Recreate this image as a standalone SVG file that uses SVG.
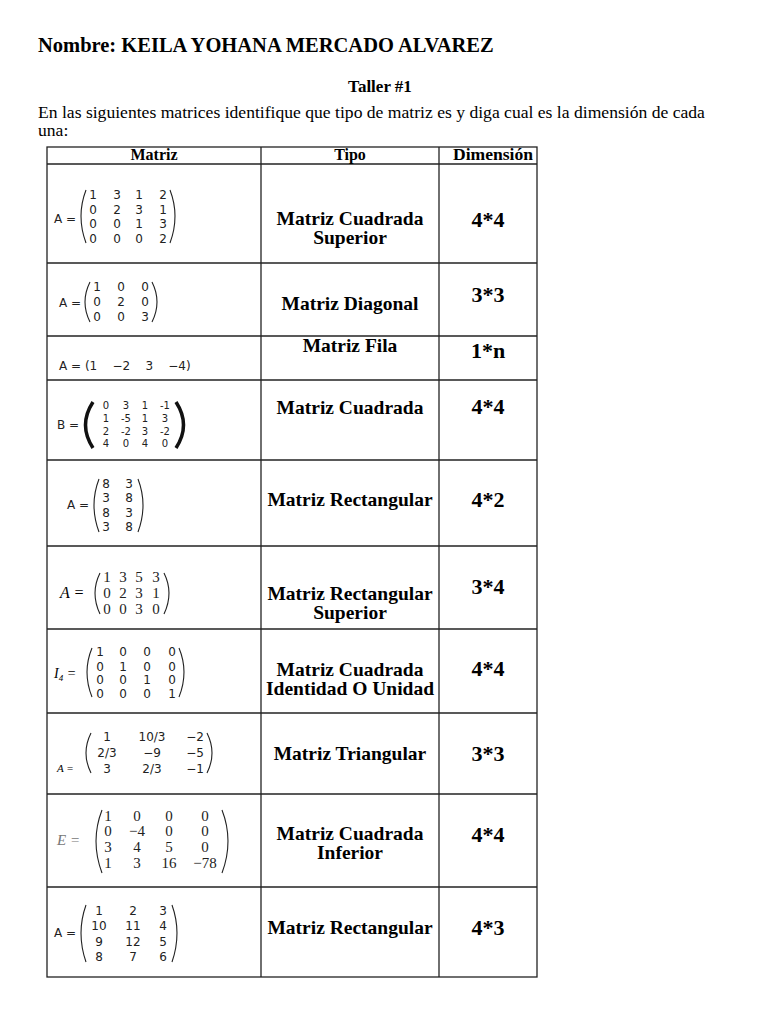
<svg xmlns="http://www.w3.org/2000/svg" width="768" height="1024" viewBox="0 0 768 1024">
<style>
.h{font-family:"Liberation Serif",serif;font-weight:bold;fill:#000}
.t{font-family:"Liberation Serif",serif;font-weight:bold;font-size:19.5px;text-anchor:middle}
.d{font-family:"Liberation Serif",serif;font-weight:bold;font-size:22px;text-anchor:middle}
.m{font-family:"DejaVu Sans","Liberation Sans",sans-serif;font-size:12px;fill:#222;text-anchor:middle}
.ms{font-family:"DejaVu Sans","Liberation Sans",sans-serif;font-size:10px;fill:#222;text-anchor:middle}
.mi{font-family:"Liberation Serif",serif;font-size:15px;fill:#222;text-anchor:middle}
.lab{font-family:"DejaVu Sans","Liberation Sans",sans-serif;font-size:12px;fill:#222}
.p{fill:none;stroke:#222;stroke-width:1.1}
.g{stroke:#222;stroke-width:1.3;fill:none}
</style>
<rect width="768" height="1024" fill="#fff"/>
<text class="h" x="38" y="52" font-size="20.5">Nombre: KEILA YOHANA MERCADO ALVAREZ</text>
<text class="h" x="380" y="92" font-size="17" text-anchor="middle">Taller #1</text>
<text x="38" y="118" font-family="Liberation Serif,serif" font-size="17.6">En las siguientes matrices identifique que tipo de matriz es y diga cual es la dimensión de cada</text>
<text x="38" y="136" font-family="Liberation Serif,serif" font-size="17.6">una:</text>
<g id="table" class="g">
<rect x="47" y="147" width="490" height="830"/>
<line x1="261" y1="147" x2="261" y2="977"/>
<line x1="439" y1="147" x2="439" y2="977"/>
<line x1="47" y1="164" x2="537" y2="164"/>
<line x1="47" y1="263" x2="537" y2="263"/>
<line x1="47" y1="336" x2="537" y2="336"/>
<line x1="47" y1="380" x2="537" y2="380"/>
<line x1="47" y1="460" x2="537" y2="460"/>
<line x1="47" y1="546" x2="537" y2="546"/>
<line x1="47" y1="629" x2="537" y2="629"/>
<line x1="47" y1="713" x2="537" y2="713"/>
<line x1="47" y1="794" x2="537" y2="794"/>
<line x1="47" y1="887" x2="537" y2="887"/>
</g>
<g id="header" class="h" font-size="16" text-anchor="middle">
<text x="154" y="160">Matriz</text><text x="350" y="160">Tipo</text><text x="493" y="160" textLength="80" lengthAdjust="spacingAndGlyphs">Dimensión</text>
</g>
<g id="row1">
<text class="lab" x="54" y="223">A =</text>
<path class="p" d="M86,190 Q76,216 86,243 M170,190 Q180,216 170,243"/>
<g class="m"><text x="93" y="199">1</text><text x="117" y="199">3</text><text x="139" y="199">1</text><text x="163" y="199">2</text>
<text x="93" y="214">0</text><text x="117" y="214">2</text><text x="139" y="214">3</text><text x="163" y="214">1</text>
<text x="93" y="228">0</text><text x="117" y="228">0</text><text x="139" y="228">1</text><text x="163" y="228">3</text>
<text x="93" y="243">0</text><text x="117" y="243">0</text><text x="139" y="243">0</text><text x="163" y="243">2</text></g>
<text class="t" x="350" y="225">Matriz Cuadrada</text><text class="t" x="350" y="244">Superior</text>
<text class="d" x="488" y="227">4*4</text>
</g>
<g id="row2">
<text class="lab" x="59" y="307" font-size="13">A =</text>
<path class="p" d="M90,282 Q80,302 90,322 M152,282 Q162,302 152,322"/>
<g class="m" font-size="13"><text x="97" y="291">1</text><text x="121" y="291">0</text><text x="145" y="291">0</text>
<text x="97" y="306">0</text><text x="121" y="306">2</text><text x="145" y="306">0</text>
<text x="97" y="321">0</text><text x="121" y="321">0</text><text x="145" y="321">3</text></g>
<text class="t" x="350" y="310">Matriz Diagonal</text>
<text class="d" x="488" y="302">3*3</text>
</g>
<g id="row3">
<text class="lab" x="59" y="370" font-size="13" xml:space="preserve">A = (1    −2    3    −4)</text>
<text class="t" x="350" y="352">Matriz Fila</text>
<text class="d" x="488" y="358" font-size="26">1*n</text>
</g>
<g id="row4">
<text class="lab" x="57" y="429" font-size="10">B =</text>
<path d="M93,402 Q78,425 93,448" fill="none" stroke="#111" stroke-width="3.5"/>
<path d="M176,402 Q191,425 176,448" fill="none" stroke="#111" stroke-width="3.5"/>
<g class="ms"><text x="106" y="409">0</text><text x="126" y="409">3</text><text x="145" y="409">1</text><text x="165" y="409">-1</text>
<text x="106" y="422">1</text><text x="126" y="422">-5</text><text x="145" y="422">1</text><text x="165" y="422">3</text>
<text x="106" y="435">2</text><text x="126" y="435">-2</text><text x="145" y="435">3</text><text x="165" y="435">-2</text>
<text x="106" y="447">4</text><text x="126" y="447">0</text><text x="145" y="447">4</text><text x="165" y="447">0</text></g>
<text class="t" x="350" y="414">Matriz Cuadrada</text>
<text class="d" x="488" y="414">4*4</text>
</g>
<g id="row5">
<text class="lab" x="67" y="509" font-size="11">A =</text>
<path class="p" d="M99,479 Q89,505 99,532 M138,479 Q148,505 138,532"/>
<g class="m"><text x="106" y="488">8</text><text x="129" y="488">3</text>
<text x="106" y="502">3</text><text x="129" y="502">8</text>
<text x="106" y="517">8</text><text x="129" y="517">3</text>
<text x="106" y="531">3</text><text x="129" y="531">8</text></g>
<text class="t" x="350" y="506">Matriz Rectangular</text>
<text class="d" x="488" y="507">4*2</text>
</g>
<g id="row6">
<text x="60" y="598" font-family="Liberation Serif,serif" font-size="16" font-style="italic">A =</text>
<path class="p" d="M100,573 Q90,593 100,614 M164,573 Q174,593 164,614"/>
<g class="mi"><text x="107" y="582">1</text><text x="123" y="582">3</text><text x="139" y="582">5</text><text x="156" y="582">3</text>
<text x="107" y="598">0</text><text x="123" y="598">2</text><text x="139" y="598">3</text><text x="156" y="598">1</text>
<text x="107" y="614">0</text><text x="123" y="614">0</text><text x="139" y="614">3</text><text x="156" y="614">0</text></g>
<text class="t" x="350" y="600">Matriz Rectangular</text><text class="t" x="350" y="619">Superior</text>
<text class="d" x="488" y="594">3*4</text>
</g>
<g id="row7">
<text x="54" y="678" font-family="Liberation Serif,serif" font-size="14" font-style="italic">I<tspan font-size="9" dy="3">4</tspan><tspan dy="-3"> =</tspan></text>
<path class="p" d="M92,648 Q82,672 92,697 M179,648 Q189,672 179,697"/>
<g class="m" font-family="Liberation Serif,serif" font-size="13"><text x="100" y="656">1</text><text x="123" y="656">0</text><text x="147" y="656">0</text><text x="172" y="656">0</text>
<text x="100" y="671">0</text><text x="123" y="671">1</text><text x="147" y="671">0</text><text x="172" y="671">0</text>
<text x="100" y="684">0</text><text x="123" y="684">0</text><text x="147" y="684">1</text><text x="172" y="684">0</text>
<text x="100" y="698">0</text><text x="123" y="698">0</text><text x="147" y="698">0</text><text x="172" y="698">1</text></g>
<text class="t" x="350" y="676">Matriz Cuadrada</text><text class="t" x="350" y="695">Identidad O Unidad</text>
<text class="d" x="488" y="676">4*4</text>
</g>
<g id="row8">
<text x="57" y="772" font-family="Liberation Serif,serif" font-size="11" font-style="italic">A =</text>
<path class="p" d="M91,733 Q81,753 91,773 M207,733 Q217,753 207,773"/>
<g class="m"><text x="107" y="741">1</text><text x="152" y="741">10/3</text><text x="195" y="741">−2</text>
<text x="107" y="757">2/3</text><text x="152" y="757">−9</text><text x="195" y="757">−5</text>
<text x="107" y="773">3</text><text x="152" y="773">2/3</text><text x="195" y="773">−1</text></g>
<text class="t" x="350" y="760">Matriz Triangular</text>
<text class="d" x="488" y="761">3*3</text>
</g>
<g id="row9">
<text x="57" y="845" font-family="Liberation Serif,serif" font-size="15" font-style="italic" fill="#777">E =</text>
<path class="p" d="M102,810 Q90,841 102,873 M222,810 Q234,841 222,873" stroke="#555"/>
<g class="mi" fill="#555" font-size="14"><text x="108" y="821">1</text><text x="137" y="821">0</text><text x="169" y="821">0</text><text x="205" y="821">0</text>
<text x="108" y="836">0</text><text x="137" y="836">−4</text><text x="169" y="836">0</text><text x="205" y="836">0</text>
<text x="108" y="852">3</text><text x="137" y="852">4</text><text x="169" y="852">5</text><text x="205" y="852">0</text>
<text x="108" y="868">1</text><text x="137" y="868">3</text><text x="169" y="868">16</text><text x="205" y="868">−78</text></g>
<text class="t" x="350" y="840">Matriz Cuadrada</text><text class="t" x="350" y="859">Inferior</text>
<text class="d" x="488" y="842">4*4</text>
</g>
<g id="row10">
<text class="lab" x="54" y="937" font-size="13">A =</text>
<path class="p" d="M86,905 Q76,933 86,962 M172,905 Q182,933 172,962"/>
<g class="m" font-size="13"><text x="99" y="915">1</text><text x="133" y="915">2</text><text x="163" y="915">3</text>
<text x="99" y="930">10</text><text x="133" y="930">11</text><text x="163" y="930">4</text>
<text x="99" y="946">9</text><text x="133" y="946">12</text><text x="163" y="946">5</text>
<text x="99" y="961">8</text><text x="133" y="961">7</text><text x="163" y="961">6</text></g>
<text class="t" x="350" y="934">Matriz Rectangular</text>
<text class="d" x="488" y="935">4*3</text>
</g>
</svg>
